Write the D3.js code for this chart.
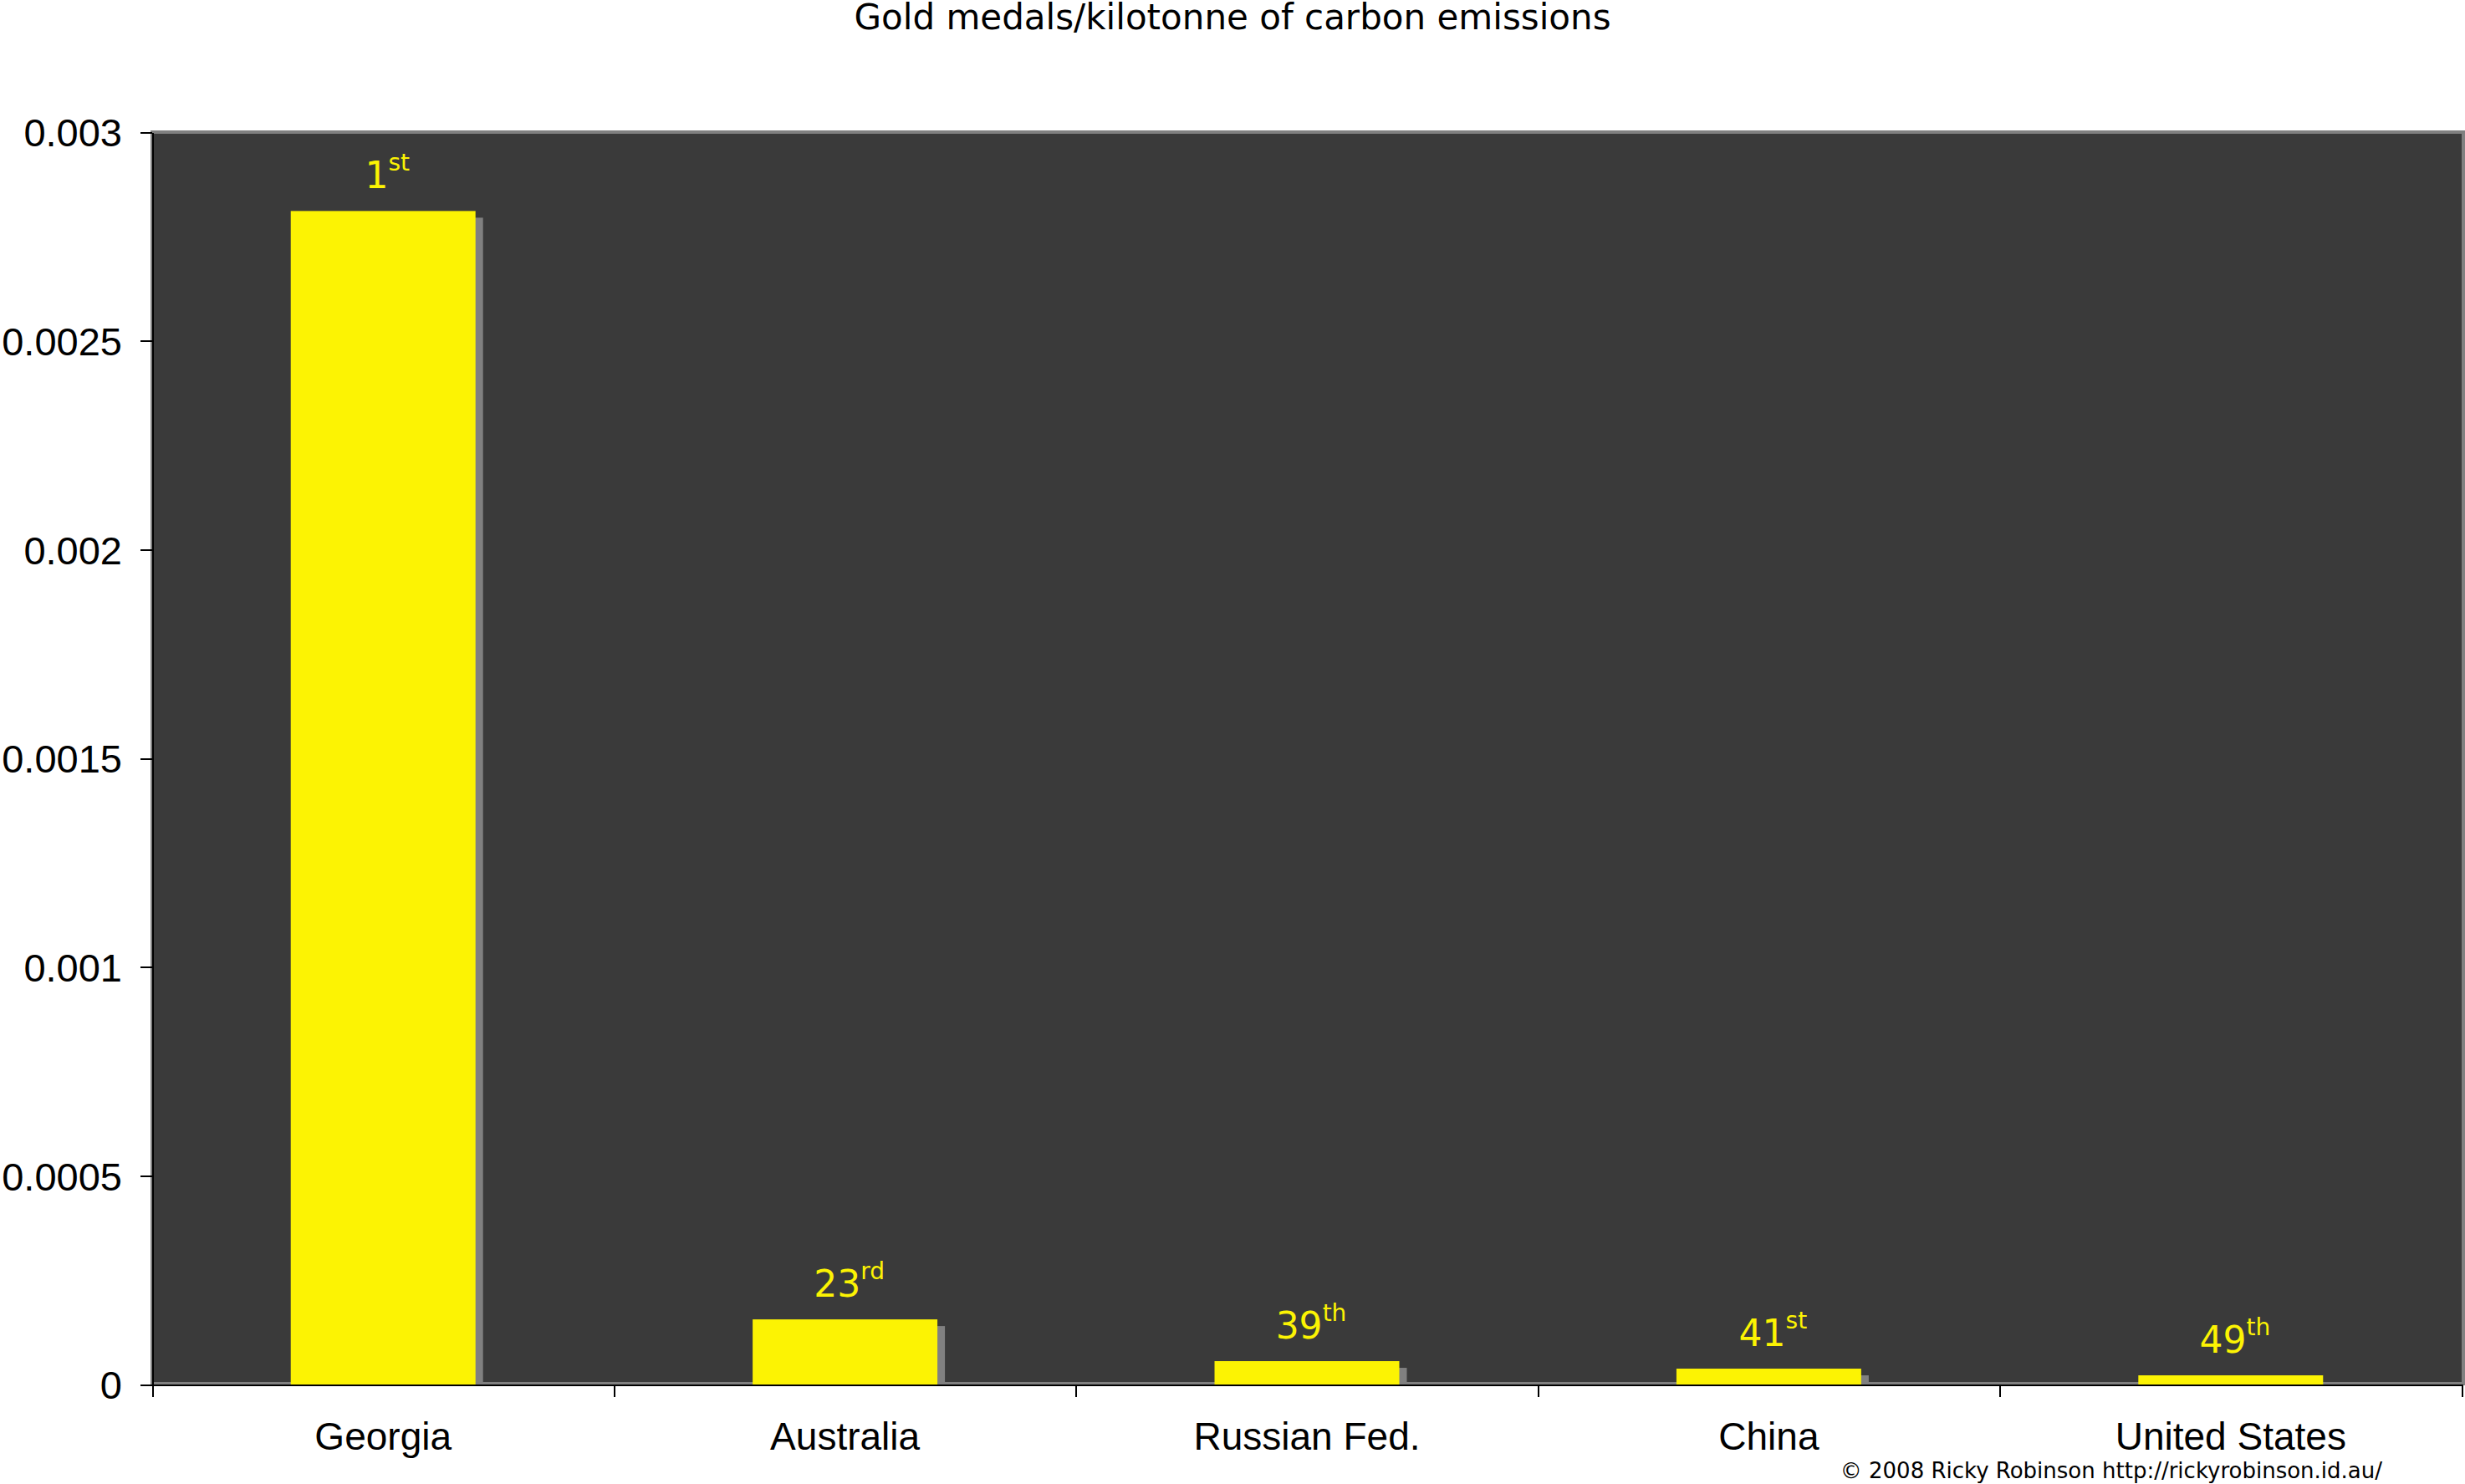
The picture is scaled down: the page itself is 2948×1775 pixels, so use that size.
<!DOCTYPE html>
<html>
<head>
<meta charset="utf-8">
<title>Gold medals/kilotonne of carbon emissions</title>
<script src="https://cdn.jsdelivr.net/npm/d3@7"></script>
<style>
	html, body { margin: 0; padding: 0; background: #fff; }
	svg { display: block; font-family: 'DejaVu Sans', Verdana, sans-serif; }
	.axis text { fill: #000; }
	.axis path, .axis line { stroke: #000; stroke-width: 2px; shape-rendering: crispEdges; }
</style>
</head>
<body>
<svg id="medal-chart" width="2948" height="1775"></svg>
<script>
	'use strict';

	// chart data
	var countries = ['Georgia', 'Australia', 'Russian Fed.', 'China', 'United States'];
	var goldPerKt = [0.002811, 0.000156, 0.000056, 0.000038, 0.000022];
	var rankNums = ['1', '23', '39', '41', '49'];
	var rankSuffix = ['st', 'rd', 'th', 'st', 'th'];
	var yTicks = [0, 0.0005, 0.001, 0.0015, 0.002, 0.0025, 0.003];

	var createMedalChart = function() {
		var svg = d3.select('#medal-chart'),
			svgWidth = +svg.attr('width'),
			plot = { left: 180, top: 156, right: svgWidth, bottom: 1656 },
			yellow = '#fcf303',
			shadowOffset = { x: 9, y: 8 };

		var xScale = d3.scaleBand()
				.domain(countries)
				.range([182, 2944])
				.paddingInner(0.6)
				.paddingOuter(0.3);

		// category boundaries for the tick marks
		var xEdge = d3.scaleLinear()
				.domain([0, countries.length])
				.range(xScale.range());

		var yScale = d3.scaleLinear()
				.domain([0, 0.003])
				.range([plot.bottom, 158]);

		// title
		svg.append('text')
			.attr('x', 1474)
			.attr('y', 35)
			.attr('text-anchor', 'middle')
			.style('font-size', '42px')
			.text('Gold medals/kilotonne of carbon emissions');

		// plot area with grey border
		svg.append('rect')
			.attr('x', plot.left + 2)
			.attr('y', plot.top + 2)
			.attr('width', plot.right - plot.left - 4)
			.attr('height', plot.bottom - plot.top - 3)
			.attr('fill', '#3a3a3a')
			.attr('stroke', '#808080')
			.attr('stroke-width', 4);

		var bars = svg.append('g')
			.selectAll('.bar')
			.data(goldPerKt)
			.enter()
			.append('g')
			.attr('class', 'bar');

		// shadow behind each bar
		bars.append('rect')
			.attr('x', function(d, i) { return xScale(countries[i]) + shadowOffset.x; })
			.attr('y', function(d) { return yScale(d) + shadowOffset.y; })
			.attr('width', xScale.bandwidth())
			.attr('height', function(d) { return Math.max(0, plot.bottom - yScale(d) - shadowOffset.y); })
			.attr('fill', '#808080');

		bars.append('rect')
			.attr('x', function(d, i) { return xScale(countries[i]); })
			.attr('y', function(d) { return yScale(d); })
			.attr('width', xScale.bandwidth())
			.attr('height', function(d) { return plot.bottom - yScale(d); })
			.attr('fill', yellow);

		// rank labels with superscript suffix
		var labels = bars.append('text')
			.attr('x', function(d, i) { return xScale(countries[i]) + xScale.bandwidth() / 2 + 5; })
			.attr('y', function(d) { return yScale(d) - 27; })
			.attr('text-anchor', 'middle')
			.attr('fill', yellow)
			.style('font-size', '44px');

		labels.append('tspan')
			.text(function(d, i) { return rankNums[i]; });

		labels.append('tspan')
			.attr('dy', -21)
			.style('font-size', '28px')
			.text(function(d, i) { return rankSuffix[i]; });

		// axes
		var yAxis = d3.axisLeft(yScale)
				.tickValues(yTicks)
				.tickFormat(function(d) { return String(d); })
				.tickSize(14)
				.tickSizeOuter(0)
				.tickPadding(22);

		svg.append('g')
			.attr('class', 'axis')
			.attr('transform', 'translate(182,0)')
			.call(yAxis)
			.selectAll('text')
			.attr('dy', '0.36em')
			.style('font-size', '47px');

		svg.append('g')
			.attr('class', 'axis')
			.attr('transform', 'translate(0,' + plot.bottom + ')')
			.call(d3.axisBottom(xEdge)
				.ticks(countries.length)
				.tickFormat('')
				.tickSize(15)
				.tickSizeOuter(0));

		var xLabels = svg.append('g')
			.attr('class', 'axis')
			.attr('transform', 'translate(0,' + plot.bottom + ')')
			.call(d3.axisBottom(xScale).tickSize(0));

		xLabels.select('.domain').remove();
		xLabels.selectAll('text')
			.attr('y', 78)
			.attr('dy', 0)
			.style('font-size', '46px');

		// copyright note
		svg.append('text')
			.attr('x', 2849)
			.attr('y', 1768)
			.attr('text-anchor', 'end')
			.style('font-size', '26px')
			.text('\u00a9 2008 Ricky Robinson http://rickyrobinson.id.au/');
	};

	createMedalChart();
</script>
</body>
</html>
